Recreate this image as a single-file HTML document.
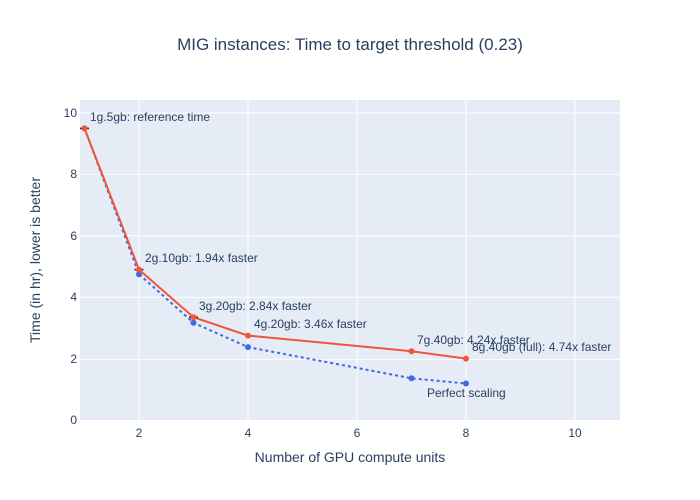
<!DOCTYPE html>
<html><head><style>body{margin:0;background:#fff}svg{display:block;font-family:"Liberation Sans",sans-serif}</style></head><body>
<svg width="700" height="500" xmlns="http://www.w3.org/2000/svg">
<rect x="80" y="100" width="540" height="320" fill="#e5ecf6"/>
<g stroke="#fff" stroke-width="1">
<line x1="80" x2="620" y1="359.6" y2="359.6"/><line x1="80" x2="620" y1="297.2" y2="297.2"/><line x1="80" x2="620" y1="235.8" y2="235.8"/><line x1="80" x2="620" y1="174.4" y2="174.4"/><line x1="80" x2="620" y1="113" y2="113"/>
<line x1="139" x2="139" y1="100" y2="420"/><line x1="248" x2="248" y1="100" y2="420"/><line x1="357" x2="357" y1="100" y2="420"/><line x1="466" x2="466" y1="100" y2="420"/><line x1="575" x2="575" y1="100" y2="420"/>
</g>
<g fill="#2a3f5f" font-size="12" text-anchor="end">
<text x="77" y="424">0</text><text x="77" y="363">2</text><text x="77" y="301">4</text><text x="77" y="240">6</text><text x="77" y="178">8</text><text x="77" y="117">10</text>
</g>
<g fill="#2a3f5f" font-size="12" text-anchor="middle">
<text x="139" y="437">2</text><text x="248" y="437">4</text><text x="357" y="437">6</text><text x="466" y="437">8</text><text x="575" y="437">10</text>
</g>
<polyline points="84.5,128.4 139,274.2 193.5,322.8 248,347.1 411.5,378.3 466,383.5" fill="none" stroke="#4169e1" stroke-width="2" stroke-dasharray="3,3"/>
<g fill="#4169e1"><circle cx="84.5" cy="128.4" r="3"/><circle cx="139" cy="274.2" r="3"/><circle cx="193.5" cy="322.8" r="3"/><circle cx="248" cy="347.1" r="3"/><circle cx="411.5" cy="378.3" r="3"/><circle cx="466" cy="383.5" r="3"/></g>
<polyline points="84.5,128.4 139,269.6 193.5,317.2 248,335.6 411.5,351.2 466,358.6" fill="none" stroke="#ef553b" stroke-width="2"/>
<g stroke="#222" stroke-width="1.5"><line x1="80" x2="89" y1="128.4" y2="128.4"/><line x1="134.5" x2="143.5" y1="269.6" y2="269.6"/><line x1="189" x2="198" y1="317.2" y2="317.2"/></g>
<g fill="#ef553b"><circle cx="84.5" cy="128.4" r="3"/><circle cx="139" cy="269.6" r="3"/><circle cx="193.5" cy="317.2" r="3"/><circle cx="248" cy="335.6" r="3"/><circle cx="411.5" cy="351.2" r="3"/><circle cx="466" cy="358.6" r="3"/></g>
<g fill="#2a3f5f" font-size="12">
<text x="90" y="121">1g.5gb: reference time</text>
<text x="145" y="262">2g.10gb: 1.94x faster</text>
<text x="199" y="310">3g.20gb: 2.84x faster</text>
<text x="254" y="328">4g.20gb: 3.46x faster</text>
<text x="417" y="344">7g.40gb: 4.24x faster</text>
<text x="472" y="351">8g.40gb (full): 4.74x faster</text>
<text x="427" y="397">Perfect scaling</text>
</g>
<text x="350" y="50" text-anchor="middle" font-size="17" fill="#2a3f5f">MIG instances: Time to target threshold (0.23)</text>
<text x="350" y="462" text-anchor="middle" font-size="14" fill="#2a3f5f">Number of GPU compute units</text>
<text transform="translate(40,260) rotate(-90)" text-anchor="middle" font-size="14" fill="#2a3f5f">Time (in hr), lower is better</text>
</svg>
</body></html>
